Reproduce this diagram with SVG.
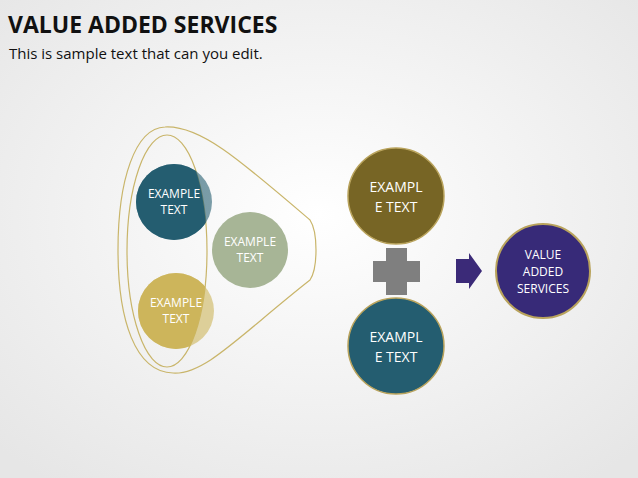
<svg xmlns="http://www.w3.org/2000/svg" width="638" height="478" viewBox="0 0 638 478">
<defs>
<radialGradient id="bg" cx="0.5" cy="0.45" r="0.7"><stop offset="0" stop-color="#ffffff"/><stop offset="1" stop-color="#e6e6e6"/></radialGradient>
<clipPath id="ell"><ellipse cx="167" cy="251" rx="40" ry="116"/></clipPath>
<style>
.t{font-family:"Open Sans","Liberation Sans",sans-serif;fill:#fff;text-anchor:middle}
.s{font-size:12px}
.b{font-size:14px}
.ol{fill:none;stroke:#c9b56a;stroke-width:1.2}
</style>
</defs>
<rect width="638" height="478" fill="url(#bg)"/>
<text x="8" y="33" font-family="'Open Sans','Liberation Sans',sans-serif" font-weight="bold" font-size="23" fill="#111">VALUE ADDED SERVICES</text>
<text x="9" y="59" font-family="'Open Sans','Liberation Sans',sans-serif" font-size="15" fill="#111">This is sample text that can you edit.</text>
<g id="funnel">
<path class="ol" d="M165,127 C200,125 240,160 310,220 C318,232 318,268 310,280 C240,335 205,375 173,373 C135,372 118,320 118,250 C118,180 135,128 165,127 Z"/>
<ellipse class="ol" cx="167" cy="251" rx="40" ry="116"/>
</g>
<g id="n1">
<circle cx="174" cy="202" r="38" fill="#245d70" opacity="0.6"/>
<circle cx="174" cy="202" r="38" fill="#245d70" clip-path="url(#ell)"/>
<text class="t s" x="174" y="198">EXAMPLE</text><text class="t s" x="174" y="214">TEXT</text>
</g>
<g id="n2">
<circle cx="250" cy="250" r="38" fill="#a7b596"/>
<text class="t s" x="250" y="246">EXAMPLE</text><text class="t s" x="250" y="262">TEXT</text>
</g>
<g id="n3">
<circle cx="176" cy="311" r="38" fill="#cdb55b" opacity="0.6"/>
<circle cx="176" cy="311" r="38" fill="#cdb55b" clip-path="url(#ell)"/>
<text class="t s" x="176" y="307">EXAMPLE</text><text class="t s" x="176" y="323">TEXT</text>
</g>
<g id="n4">
<circle cx="396" cy="196" r="48" fill="#776525" stroke="#b9a35c" stroke-width="1.5"/>
<text class="t b" x="396" y="192">EXAMPL</text><text class="t b" x="396" y="212">E TEXT</text>
</g>
<g id="plus"><path d="M386,248 H407 V261 H420 V282 H407 V295 H386 V282 H373 V261 H386 Z" fill="#7f7f7f"/></g>
<g id="n5">
<circle cx="396" cy="346" r="48" fill="#245d70" stroke="#b9a35c" stroke-width="1.5"/>
<text class="t b" x="396" y="342">EXAMPL</text><text class="t b" x="396" y="362">E TEXT</text>
</g>
<g id="connectors"><path d="M456,259 H469 V253 L482,271 L469,289 V283 H456 Z" fill="#3b2a78"/></g>
<g id="n6">
<circle cx="543" cy="271" r="47" fill="#372a78" stroke="#b9a35c" stroke-width="2"/>
<text class="t s" x="543" y="259">VALUE</text><text class="t s" x="543" y="276">ADDED</text><text class="t s" x="543" y="293">SERVICES</text>
</g>
</svg>
